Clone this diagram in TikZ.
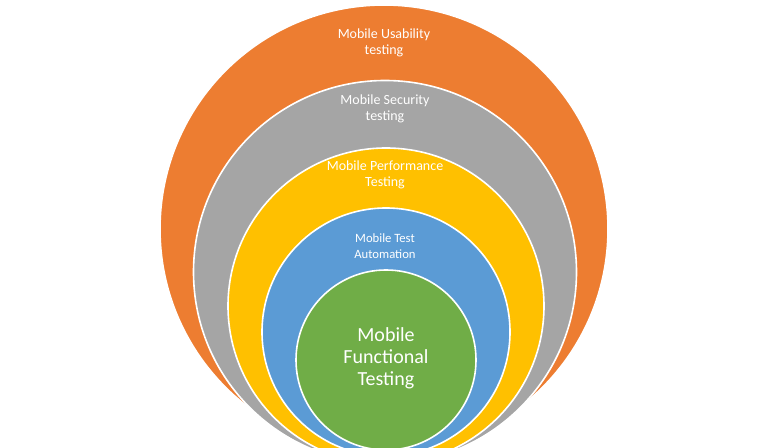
\documentclass[tikz,border=0pt]{standalone}
\usepackage{fontspec}
\setmainfont{Carlito}
\definecolor{usab}{HTML}{ED7D31}
\definecolor{secu}{HTML}{A5A5A5}
\definecolor{perf}{HTML}{FFC000}
\definecolor{auto}{HTML}{5B9BD5}
\definecolor{func}{HTML}{70AD47}
\begin{document}
\begin{tikzpicture}[x=0.75pt,y=-0.75pt]

\tikzset{
	ring/.style={circle,draw=white,line width=1.2pt,inner sep=0pt},
	lbl/.style={text=white,align=center,font=\fontsize{10.5}{12.5}\selectfont}
}
\useasboundingbox (0,0) rectangle (768,448);
\clip (0,0) rectangle (768,448);
        % rings, outer to inner
        \node[ring,fill=usab,minimum size=448*0.75pt] (usability) at (384,229) {};
        \node[ring,fill=secu,minimum size=383*0.75pt] (security) at (385,272) {};
        \node[ring,fill=perf,minimum size=316*0.75pt] (performance) at (386,306) {};
        \node[ring,fill=auto,minimum size=248*0.75pt] (automation) at (386,332) {};
        \node[ring,fill=func,minimum size=180*0.75pt] (functional) at (386,360) {};
        % labels
        \node[lbl] (tusability) at (384,43) {Mobile Usability\\testing};
        \node[lbl] (tsecurity) at (385,109) {Mobile Security\\testing};
        \node[lbl] (tperformance) at (385,175) {Mobile Performance\\Testing};
        \node[lbl,font=\fontsize{9.5}{12}\selectfont] (tautomation) at (385,246) {Mobile Test\\Automation};
        \node[lbl,font=\fontsize{15}{16.5}\selectfont] (tfunctional) at (386,358) {Mobile\\Functional\\Testing};
    \end{tikzpicture}
\end{document}
